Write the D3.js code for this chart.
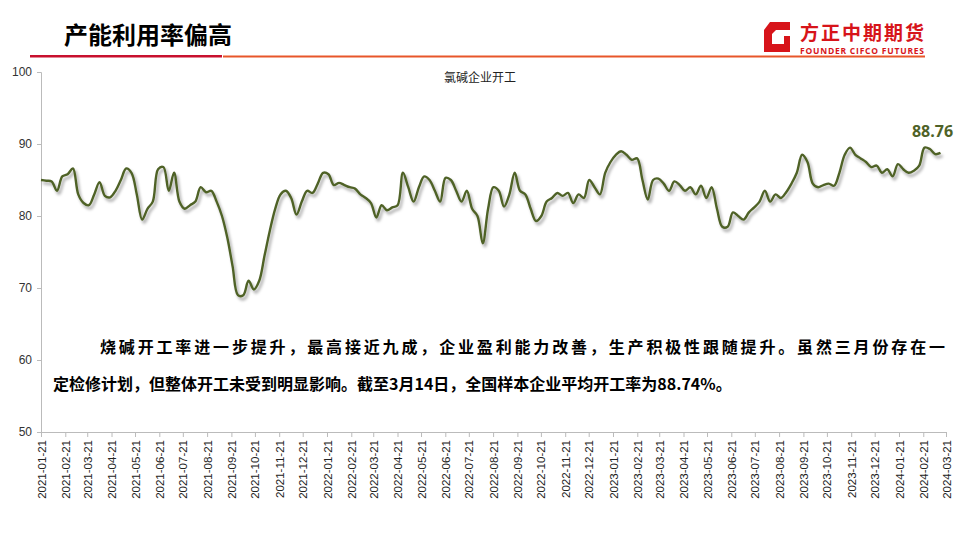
<!DOCTYPE html>
<html><head><meta charset="utf-8">
<script src="https://cdn.jsdelivr.net/npm/d3@7"></script>
<style>body{margin:0;background:#fff}svg{display:block}</style>
</head><body><svg id="c" width="960" height="540"></svg>
<script>
const title = "产能利用率偏高";
const chartTitle = "氯碱企业开工";
const startDate = "2021-01-21";
const endDate = "2024-03-14";
const tickLabels = d3.range(0, 39).map(i => d3.timeFormat("%Y-%m-%d")(d3.timeMonth.offset(new Date(2021,0,21), i)));
const yTicks = [50,60,70,80,90,100];
const values = [
85,84.9,84.8,83.5,
85.5,85.8,86.6,83,
81.8,81.5,83,84.7,82.8,
82.6,83.5,85,86.6,
86,83,79.5,81,82,
86.5,86.8,83.5,86,
82,81,81.5,82,
84,83.3,83.5,82,
80,77,73,69,69,
71,69.8,71,74.5,78,
81,83,83.5,82.5,
80.2,82,83.5,83.2,84.5,
86,85.8,84.3,84.6,84.3,
84,83.8,83,82.5,
81.8,79.8,81.5,80.8,81.2,
81.5,86,84,82,
84,85.5,85,83.5,82,
85.3,85,83.5,82,
83.5,81,80,76.2,
81,84,83.5,81.3,83,
86,83.5,83,81,
79.3,80,82,82.5,83.2,
82.8,83.2,81.8,83,
82.5,85,84,83,86,
87.5,88.5,89,88.5,87.8,
88,85,82.3,85,
85.2,84.5,83.5,84.8,
84.3,83.5,84,83,
84.2,82.5,84,81,78.5,
78.5,80.5,80,79.5,
80.5,81.2,82,83.5,
82,83,82.5,83.3,84.5,
86,88.5,87.5,84.5,
84,84.3,84.5,84.2,86,
88.5,89.5,88.5,88,87.5,
86.8,87,86,86.5,85.5,
87.2,86.5,86,86.3,
87,89.5,89.3,88.6,88.76];
const lastLabel = "88.76";
const para1 = "烧碱开工率进一步提升，最高接近九成，企业盈利能力改善，生产积极性跟随提升。虽然三月份存在一";
const para2 = "定检修计划，但整体开工未受到明显影响。截至3月14日，全国样本企业平均开工率为88.74%。";

const svg = d3.select("#c");
const parse = d3.timeParse("%Y-%m-%d");
const t0 = parse(startDate), t1 = parse(endDate);
const dates = values.map((v,i)=> new Date(+t0 + (t1-t0)*i/(values.length-1)));
const x = d3.scaleTime().domain([parse(tickLabels[0]), parse(tickLabels[tickLabels.length-1])]).range([41,946]);
const y = d3.scaleLinear().domain([50,100]).range([432,72]);

// header
svg.append("text").attr("x",64).attr("y",44).attr("font-family","Noto Sans CJK SC").attr("font-weight","bold").attr("font-size",24).attr("fill","#000").text(title);
svg.append("rect").attr("x",30).attr("y",55).attr("width",192).attr("height",2.5).attr("fill","#c8102e");
svg.append("rect").attr("x",223).attr("y",55.5).attr("width",702).attr("height",2).attr("fill","#e8562a");
// logo
const lg = svg.append("g").attr("transform","translate(764,22)");
lg.append("path").attr("d","M6,0 H26 V8 H12 L8,12 V22 H20 V14 H26 V30 H0 V8 Z").attr("fill","#d7141a");
svg.append("text").attr("x",800).attr("y",40).attr("font-family","Noto Sans CJK SC").attr("font-weight","bold").attr("font-size",19).attr("fill","#d7141a").attr("textLength",124).text("方正中期期货");
svg.append("text").attr("x",800).attr("y",53.5).attr("font-family","Open Sans, sans-serif").attr("font-weight","bold").attr("font-size",8.5).attr("fill","#d7141a").attr("textLength",124).text("FOUNDER CIFCO FUTURES");

// axes
const ya = svg.append("g").attr("transform","translate(41,0)").call(d3.axisLeft(y).tickValues(yTicks).tickSize(4).tickFormat(d3.format("d")));
ya.select(".domain").attr("stroke","#bbb");
ya.selectAll("line").attr("stroke","#bbb");
ya.selectAll("text").attr("font-family","Liberation Sans, Arial").attr("font-size",12).attr("fill","#333").attr("x",-9);
const xa = svg.append("g").attr("transform","translate(0,432)").call(d3.axisBottom(x).tickValues(tickLabels.map(parse)).tickSize(5).tickFormat(d3.timeFormat("%Y-%m-%d")));
xa.select(".domain").attr("stroke","#bbb");
xa.selectAll("line").attr("stroke","#bbb");
xa.selectAll("text").attr("font-family","Liberation Sans, Arial").attr("font-size",11.5).attr("fill","#222")
  .attr("transform","rotate(-90)").attr("text-anchor","end").attr("x",-8).attr("y",0).attr("dy","0.35em");

svg.append("text").attr("x",480).attr("y",82).attr("text-anchor","middle").attr("font-family","Noto Sans CJK SC").attr("font-size",12).attr("fill","#222").text(chartTitle);

// shadow filter
const defs = svg.append("defs");
const f = defs.append("filter").attr("id","sh").attr("x","-5%").attr("y","-5%").attr("width","110%").attr("height","120%");
f.append("feDropShadow").attr("dx",2).attr("dy",3).attr("stdDeviation",1.6).attr("flood-color","#000").attr("flood-opacity",0.35);

const line = d3.line().x((d,i)=>x(dates[i])).y(d=>y(d)).curve(d3.curveCatmullRom.alpha(0.5));
svg.append("path").datum(values).attr("d",line).attr("fill","none").attr("stroke","#4f6228").attr("stroke-width",2.4).attr("filter","url(#sh)");
svg.append("text").attr("x",x(dates[dates.length-1])-8).attr("y",y(values[values.length-1])-16).attr("text-anchor","middle")
  .attr("font-family","Open Sans, sans-serif").attr("font-weight","bold").attr("font-size",16).attr("fill","#4f6228").text(lastLabel);

// paragraph
svg.append("text").attr("x",100).attr("y",353).attr("font-family","Noto Sans CJK SC").attr("font-weight","bold").attr("font-size",16).attr("fill","#000").attr("textLength",845).text(para1);
svg.append("text").attr("x",53).attr("y",390).attr("font-family","Noto Sans CJK SC").attr("font-weight","bold").attr("font-size",16).attr("fill","#000").text(para2);
</script></body></html>
